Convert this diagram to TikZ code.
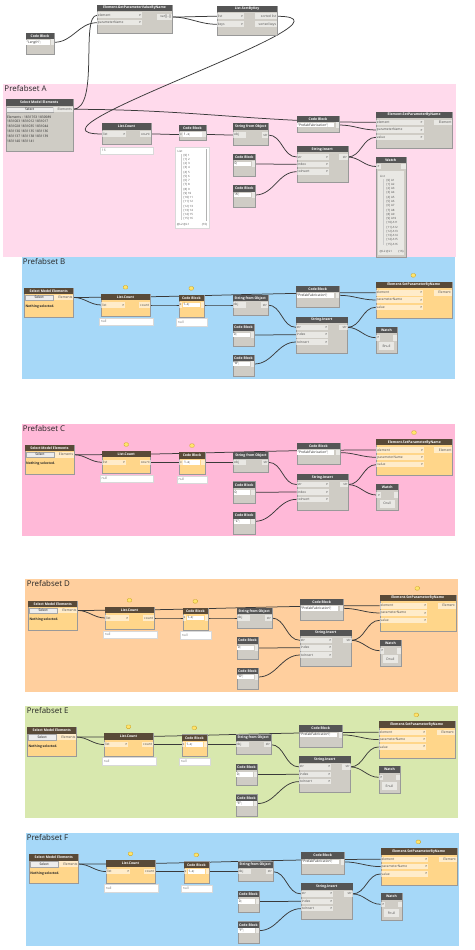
\documentclass[tikz,border=0pt]{standalone}
\usepackage{fontspec}
\setmainfont{Open Sans}
\usepackage{tikz}
\pgfdeclarelayer{bg}
\pgfdeclarelayer{wires}
\pgfsetlayers{bg,wires,main}

\definecolor{nbody}{HTML}{CFCCC5}
\definecolor{nhead}{HTML}{555555}
\definecolor{wbody}{HTML}{FFD68A}
\definecolor{whead}{HTML}{594A38}
\definecolor{wirec}{HTML}{3A3A3A}
\definecolor{bubfill}{HTML}{FFE46B}
\definecolor{bubline}{HTML}{C9A227}
\definecolor{pinkA}{HTML}{FFDAEC}
\definecolor{blueB}{HTML}{A6D8F8}
\definecolor{pinkC}{HTML}{FFB9D8}
\definecolor{peachD}{HTML}{FFCF9E}
\definecolor{greenE}{HTML}{D8E8AE}

\newcommand{\ftitle}{\fontsize{3.4}{3.8}\selectfont\bfseries}
\newcommand{\fport}{\fontsize{3.3}{3.7}\selectfont}
\newcommand{\fitem}{\fontsize{2.9}{3.2}\selectfont}
\newcommand{\fset}{\fontsize{7.9}{9}\selectfont}

\tikzset{
  dbody/.style={draw=black!40, line width=0.25pt, inner sep=0pt, outer sep=0pt, anchor=north west},
  dhead/.style={inner sep=0pt, outer sep=0pt, anchor=north west, minimum height=6.3pt, text=white, font=\ftitle},
  pbox/.style={fill=white, fill opacity=0.55, inner sep=0pt, outer sep=0pt, minimum height=5.6pt},
  plab/.style={inner sep=0pt, font=\fport, text=black!70},
  codebox/.style={fill=white, inner sep=0pt, outer sep=0pt, minimum height=4.8pt, anchor=west},
  prevbox/.style={fill=white, draw=black!15, line width=0.2pt, inner sep=0pt, anchor=north west, minimum height=7.4pt},
  ptext/.style={inner sep=0pt, font=\fport, text=black!55, anchor=west},
  selbtn/.style={fill=black!7, draw=black!35, line width=0.2pt, inner sep=0pt, anchor=north west, minimum width=28.4pt, minimum height=5.6pt, font=\fport},
  ntext/.style={inner sep=0pt, font=\fport, text=black!85, anchor=west},
  litem/.style={inner sep=0pt, font=\fitem, text=black!70, anchor=west},
  bubble/.style={fill=bubfill, draw=bubline, line width=0.3pt, rounded corners=1.2pt, minimum width=4.6pt, minimum height=3.6pt, inner sep=0pt},
  wire/.style={draw=wirec, line width=0.75pt},
  setlabel/.style={inner sep=0pt, anchor=base west, font=\fset, text=black!85}
}

% node frame: name, x, y, w, h, title, kind (n = normal, w = warning)
\newcommand{\dframe}[7]{%
  \node[dbody, fill=#7body, minimum width=#4pt, minimum height=#5pt] (#1) at (#2,#3) {};
  \node[dhead, fill=#7head, minimum width=#4pt] (#1-t) at (#1.north west) {#6};}
% input port with chevron
\newcommand{\pin}[5]{%
  \node[pbox, anchor=west, minimum width=#4pt] (#1) at (#2,#3) {};
  \node[plab, anchor=west] (#1-l) at ([xshift=0.7pt]#1.west) {#5};
  \node[plab, anchor=east] (#1-c) at ([xshift=-0.8pt]#1.east) {\textbf{>}};}
% input port, no chevron
\newcommand{\pinx}[5]{%
  \node[pbox, anchor=west, minimum width=#4pt] (#1) at (#2,#3) {};
  \node[plab, anchor=west] (#1-l) at ([xshift=0.6pt]#1.west) {#5};}
% output port
\newcommand{\pout}[5]{%
  \node[pbox, anchor=east, minimum width=#4pt] (#1) at (#2,#3) {};
  \node[plab, anchor=east] (#1-l) at ([xshift=-0.6pt]#1.east) {#5};}
% code line
\newcommand{\code}[5]{%
  \node[codebox, minimum width=#4pt] (#1) at (#2,#3) {};
  \node[plab, anchor=west, text=black!85] (#1-l) at ([xshift=0.5pt]#1.west) {#5};}

% one prefab set: prefix, x, y, letter
\newcommand{\prefabset}[4]{%
\begin{scope}[shift={(#2,#3)}]
  \dframe{#1sme}{0}{0}{49}{29}{Select Model Elements}{w}
  \node[selbtn] (#1sme-b) at (0.6,6.8) {Select};
  \pout{#1sme-o}{49}{9.7}{19.5}{Elements}
  \node[ntext, font=\fport\bfseries] (#1sme-x) at (1,19) {Nothing selected.};

  \dframe{#1lc}{77}{6}{48.5}{22.5}{List.Count}{w}
  \pin{#1lc-i}{77}{17.3}{24}{list}
  \pout{#1lc-o}{125.5}{17.3}{11}{count}
  \node[prevbox, minimum width=53.8pt] (#1lc-p) at (74.6,30) {};
  \node[ptext] (#1lc-pt) at (76.3,33.7) {null};
  \node[bubble] (#1lc-b) at (101.2,-0.5) {};

  \dframe{#1cb}{154.4}{7.3}{25.3}{21.7}{Code Block}{w}
  \pinx{#1cb-i}{154.4}{17.3}{3.6}{x}
  \code{#1cb-c}{158.3}{17.3}{17}{1..x;}
  \pout{#1cb-o}{179.7}{17.3}{3.4}{}
  \node[prevbox, minimum width=30.7pt] (#1cb-p) at (151.7,30.6) {};
  \node[ptext] (#1cb-pt) at (153.4,34.3) {null};
  \node[bubble] (#1cb-b) at (167,0.6) {};

  \dframe{#1so}{208.4}{7.3}{35}{20}{String from Object}{n}
  \pinx{#1so-i}{208.4}{17.3}{13}{obj}
  \pout{#1so-o}{243.4}{17.3}{6.5}{str}

  \dframe{#1cp}{271.7}{-2}{43.3}{21.6}{Code Block}{n}
  \code{#1cp-c}{272.2}{7.6}{37}{"PrefabFabrication";}
  \pout{#1cp-o}{315}{7.6}{3.6}{}

  \dframe{#1sp}{351.4}{-6}{76}{36.6}{Element.SetParameterByName}{w}
  \pin{#1sp-e}{351.4}{5}{47.6}{element}
  \pin{#1sp-p}{351.4}{12.3}{47.6}{parameterName}
  \pin{#1sp-v}{351.4}{19.6}{47.6}{value}
  \pout{#1sp-o}{427.4}{5}{18}{Element}
  \node[bubble] (#1sp-b) at (389,-12.4) {};

  \dframe{#1si}{271.7}{29}{51.5}{36}{String.Insert}{n}
  \pin{#1si-s}{271.7}{39.6}{32.3}{str}
  \pin{#1si-x}{271.7}{47}{32.3}{index}
  \pin{#1si-t}{271.7}{54.3}{32.3}{toInsert}
  \pout{#1si-o}{323.2}{39.6}{8.4}{str}

  \dframe{#1ci}{208.4}{36.6}{21.6}{21.7}{Code Block}{n}
  \code{#1ci-c}{208.9}{47.3}{16.5}{0;}
  \pout{#1ci-o}{230}{47.3}{3.6}{}

  \dframe{#1ct}{208.4}{67.3}{21.6}{21.6}{Code Block}{n}
  \code{#1ct-c}{208.9}{76.3}{16.5}{"#4";}
  \pout{#1ct-o}{230}{76.3}{3.6}{}

  \dframe{#1w}{351.4}{39}{21.6}{26.6}{Watch}{n}
  \pin{#1w-i}{351.4}{50}{4.5}{}
  \pout{#1w-o}{373}{50}{4.5}{}
  \node[pbox, anchor=north west, minimum width=15pt, minimum height=8pt] (#1w-a) at (354.7,54.5) {};
  \node[plab] (#1w-at) at (#1w-a.center) {#4null};
\end{scope}
\begin{pgfonlayer}{wires}
  \draw[wire] (#1sme-o.east) to[out=0,in=180] (#1lc-i.west);
  \draw[wire] (#1sme-o.east) to[out=0,in=180] (#1sp-e.west);
  \draw[wire] (#1lc-o.east) to[out=0,in=180] (#1cb-i.west);
  \draw[wire] (#1cb-o.east) to[out=0,in=180] (#1so-i.west);
  \draw[wire] (#1so-o.east) to[out=0,in=180] (#1si-s.west);
  \draw[wire] (#1ci-o.east) to[out=0,in=180] (#1si-x.west);
  \draw[wire] (#1ct-o.east) to[out=0,in=180] (#1si-t.west);
  \draw[wire] (#1cp-o.east) to[out=0,in=180] (#1sp-p.west);
  \draw[wire] (#1si-o.east) to[out=0,in=180] (#1sp-v.west);
  \draw[wire] (#1si-o.east) to[out=0,in=180] (#1w-i.west);
\end{pgfonlayer}}

\begin{document}
\begin{tikzpicture}[x=1pt, y=-1pt]
  \useasboundingbox (0,0) rectangle (474,950);
  % group backgrounds
  \begin{pgfonlayer}{bg}
    \fill[white] (0,0) rectangle (474,950);
    \fill[pinkA] (3,84) rectangle (456,256.7);
    \fill[blueB] (21.7,256.7) rectangle (455,379.3);
    \fill[pinkC] (21.7,424) rectangle (455,535.7);
    \fill[peachD] (25,579) rectangle (457.7,691.7);
    \fill[greenE] (25,706) rectangle (457.7,818.3);
    \fill[blueB] (26,833.3) rectangle (459.3,945.7);
  \end{pgfonlayer}
  \node[setlabel] (labA) at (4.3,91.6) {Prefabset A};
  \node[setlabel] (labB) at (22.7,264.4) {Prefabset B};
  \node[setlabel] (labC) at (22.7,431.7) {Prefabset C};
  \node[setlabel] (labD) at (26.7,586.2) {Prefabset D};
  \node[setlabel] (labE) at (26.7,713.3) {Prefabset E};
  \node[setlabel] (labF) at (26.7,840.7) {Prefabset F};

  % sorting by length, top
  \dframe{len}{25.7}{33}{28.6}{21}{Code Block}{n}
  \code{len-c}{26.2}{42.3}{23.8}{"Length";}
  \pout{len-o}{54.3}{42.3}{3.6}{}
  \dframe{gpv}{97}{4.7}{75}{28.3}{Element.GetParameterValueByName}{n}
  \pin{gpv-e}{97}{15.3}{45}{element}
  \pin{gpv-p}{97}{22.7}{45}{parameterName}
  \pout{gpv-o}{172}{17}{15}{var[]..[]}
  \dframe{sbk}{217}{5.7}{60}{29}{List.SortByKey}{n}
  \pin{sbk-l}{217}{16.3}{27}{list}
  \pin{sbk-k}{217}{24.3}{27}{keys}
  \pout{sbk-o}{277}{16.3}{22}{sorted list}
  \pout{sbk-ok}{277}{24.3}{22}{sorted keys}

  % set A
  \dframe{asme}{5.7}{99.3}{67}{51.7}{Select Model Elements}{n}
  \node[selbtn, minimum width=46.4pt] (asme-b) at (6.3,106.5) {Select};
  \pout{asme-o}{72.7}{109.3}{19.5}{Elements}
  \foreach \t [count=\k] in {Elements : 1831763 1830989, 1831003 1831012 1831017,
      1831028 1831035 1831044, 1831130 1831135 1831136, 1831137 1831138 1831139, 1831140 1831141}
    \node[ntext] (asme-t\k) at (6.8,{112.2+4.8*\k}) {\t};

  \dframe{alc}{102.3}{123.3}{48.4}{21}{List.Count}{n}
  \pin{alc-i}{102.3}{134}{24}{list}
  \pout{alc-o}{150.7}{134}{11}{count}
  \node[prevbox, minimum width=52.7pt] (alc-p) at (100,146.7) {};
  \node[ptext] (alc-pt) at (101.7,150.4) {16};

  \dframe{acb}{179.3}{124.7}{26.4}{15.3}{Code Block}{n}
  \pinx{acb-i}{179.3}{134.5}{3.6}{x}
  \code{acb-c}{183.2}{134.5}{18.5}{1..x;}
  \pout{acb-o}{205.7}{134.5}{3.4}{}
  \node[prevbox, minimum width=34pt, minimum height=81.6pt] (acb-p) at (175,146.7) {};
  \draw[black!30, line width=0.6pt] (206.5,149) -- (206.5,221);
  \draw[black!20, line width=0.2pt] (181,154) -- (181,219.5);
  \node[litem] (acb-pl) at (177.5,151) {List};
  \foreach \i in {0,...,15} {
    \pgfmathtruncatemacro\n{\i+1}
    \node[litem] (acb-p\i) at (183.5,{155.3+4.25*\i}) {[\i]\ \n};
  }
  \node[litem] (acb-pf) at (176.7,225) {@L2 @L1};
  \node[litem, anchor=east] (acb-pc) at (207.5,225) {\{16\}};

  \dframe{aso}{233.3}{123.3}{35}{21.7}{String from Object}{n}
  \pinx{aso-i}{233.3}{135}{13}{obj}
  \pout{aso-o}{268.3}{135}{6.5}{str}

  \dframe{acp}{296.7}{115.7}{42.6}{16.6}{Code Block}{n}
  \code{acp-c}{297.2}{125}{37}{"PrefabFabrication";}
  \pout{acp-o}{339.3}{125}{3.6}{}

  \dframe{asp}{376}{111.7}{76.3}{36}{Element.SetParameterByName}{n}
  \pin{asp-e}{376}{122.3}{47.6}{element}
  \pin{asp-p}{376}{130}{47.6}{parameterName}
  \pin{asp-v}{376}{137.3}{47.6}{value}
  \pout{asp-o}{452.3}{122.3}{18}{Element}

  \dframe{asi}{296.7}{146}{51}{36.3}{String.Insert}{n}
  \pin{asi-s}{296.7}{157}{32.3}{str}
  \pin{asi-x}{296.7}{164.3}{32.3}{index}
  \pin{asi-t}{296.7}{171.7}{32.3}{toInsert}
  \pout{asi-o}{347.7}{157}{8.4}{str}

  \dframe{aci}{233.3}{154}{22}{22}{Code Block}{n}
  \code{aci-c}{233.8}{164}{17}{0;}
  \pout{aci-o}{255.3}{164}{3.6}{}

  \dframe{act}{233.3}{185.3}{22}{21.7}{Code Block}{n}
  \code{act-c}{233.8}{195}{17}{"A";}
  \pout{act-o}{255.3}{195}{3.6}{}

  \dframe{aw}{376}{156.7}{29.7}{100.3}{Watch}{n}
  \pin{aw-i}{376}{166.5}{4.5}{}
  \pout{aw-o}{405.7}{166.5}{4.5}{}
  \node[pbox, anchor=north west, minimum width=25.7pt, minimum height=84pt] (aw-a) at (378,171) {};
  \draw[black!20, line width=0.2pt] (383,179) -- (383,244.5);
  \node[litem] (aw-l) at (380,176) {List};
  \foreach \i in {0,...,15} {
    \pgfmathtruncatemacro\n{\i+1}
    \node[litem] (aw-\i) at (386.5,{180.3+4.27*\i}) {[\i]\ A\n};
  }
  \node[litem] (aw-f) at (379.5,251.7) {@L2 @L1};
  \node[litem, anchor=east] (aw-c) at (404,251.7) {\{16\}};

  \begin{pgfonlayer}{wires}
    \draw[wire] (len-o.east) to[out=0,in=180] (gpv-p.west);
    \draw[wire] (asme-o.east) .. controls +(27.3,0) and +(-17,0) .. (gpv-e.west);
    \draw[wire] (gpv-o.east) to[out=0,in=180] (sbk-l.west);
    \draw[wire] (gpv-o.east) to[out=0,in=180] (sbk-k.west);
    \draw[wire] (sbk-o.east) .. controls +(100,0) and +(-100,0) .. (alc-i.west);
    \draw[wire] (asme-o.east) to[out=0,in=180] (asp-e.west);
    \draw[wire] (alc-o.east) to[out=0,in=180] (acb-i.west);
    \draw[wire] (acb-o.east) to[out=0,in=180] (aso-i.west);
    \draw[wire] (aso-o.east) to[out=0,in=180] (asi-s.west);
    \draw[wire] (aci-o.east) to[out=0,in=180] (asi-x.west);
    \draw[wire] (act-o.east) to[out=0,in=180] (asi-t.west);
    \draw[wire] (acp-o.east) to[out=0,in=180] (asp-p.west);
    \draw[wire] (asi-o.east) to[out=0,in=180] (asp-v.west);
    \draw[wire] (asi-o.east) to[out=0,in=180] (aw-i.west);
  \end{pgfonlayer}

  % sets B to F
  \prefabset{b}{24.3}{287.7}{B}
  \prefabset{c}{25}{445}{C}
  \prefabset{d}{28.3}{600.7}{D}
  \prefabset{e}{27.3}{727.3}{E}
  \prefabset{f}{29.3}{854.3}{F}
\end{tikzpicture}
\end{document}
